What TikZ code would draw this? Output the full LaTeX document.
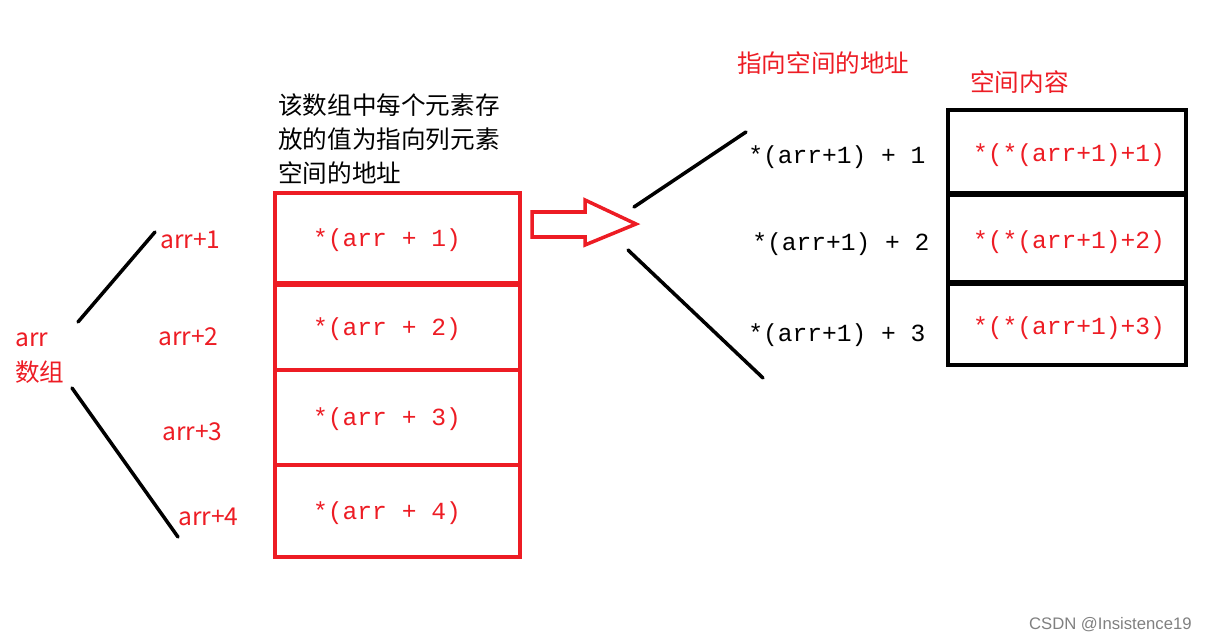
\documentclass[tikz,border=0pt]{standalone}
\usepackage{fontspec}
\setmainfont{Liberation Mono}
\newfontfamily\cjk{Noto Sans CJK SC}
\definecolor{myred}{RGB}{237,28,36}
\begin{document}
\begin{tikzpicture}[x=0.02cm,y=-0.02cm,
  rl/.style={myred,font=\cjk\fontsize{14}{16}\selectfont,anchor=west,inner sep=0},
  code/.style={font=\fontsize{14}{16}\selectfont,inner sep=0},
  rbox/.style={draw=myred,line width=2.2pt},
  bbox/.style={draw=black,line width=2.2pt},
  ln/.style={line width=2pt,line cap=round}]
\useasboundingbox (0,0) rectangle (1206,641);
% left labels
\node[rl] (arr) at (15,340) {arr};
\node[rl] (sz) at (15,372) {数组};
\coordinate (l1a) at (78,322); \coordinate (l1b) at (155,232);
\coordinate (l2a) at (72,388); \coordinate (l2b) at (178,537);
\draw[ln] (l1a) -- (l1b); \draw[ln] (l2a) -- (l2b);
\node[rl] (a1) at (160,240) {arr+1};
\node[rl] (a2) at (158,337) {arr+2};
\node[rl] (a3) at (162,432) {arr+3};
\node[rl] (a4) at (178,517) {arr+4};
% red boxes
\foreach \t/\b/\i in {193/283/1,285/370/2,370/465/3,465/557/4}{
  \draw[rbox] (275,\t) rectangle (520,\b);
  \node[code,myred] (r\i) at (387,{(\t+\b)/2+2}) {*(arr + \i)};
}
\node[anchor=north west,inner sep=0,align=left,font=\cjk\fontsize{14}{19.5}\selectfont] (desc) at (278,93)
 {该数组中每个元素存\\放的值为指向列元素\\空间的地址};
% hollow arrow
\draw[myred,line width=2pt,fill=white] (532,212) -- (585,212) -- (585,200) -- (636,224) -- (585,245) -- (585,237) -- (532,237) -- cycle;
% right lines
\coordinate (m1a) at (634,207); \coordinate (m1b) at (746,132);
\coordinate (m2a) at (628,250); \coordinate (m2b) at (763,378);
\draw[ln] (m1a) -- (m1b); \draw[ln] (m2a) -- (m2b);
\node[code,anchor=west] (p1) at (748,157) {*(arr+1) + 1};
\node[code,anchor=west] (p2) at (752,244) {*(arr+1) + 2};
\node[code,anchor=west] (p3) at (748,335) {*(arr+1) + 3};
\node[rl] (t1) at (737,63) {指向空间的地址};
\node[rl] (t2) at (970,82) {空间内容};
\foreach \t/\b/\i in {110/193/1,195/282/2,284/365/3}{
  \draw[bbox] (948,\t) rectangle (1186,\b);
  \node[code,myred] (q\i) at (1069,{(\t+\b)/2+4}) {*(*(arr+1)+\i)};
}
\node[anchor=east,inner sep=0,gray,font=\fontspec{Liberation Sans}\fontsize{9.5}{11}\selectfont] (wm) at (1192,625) {CSDN @Insistence19};
\end{tikzpicture}
\end{document}
